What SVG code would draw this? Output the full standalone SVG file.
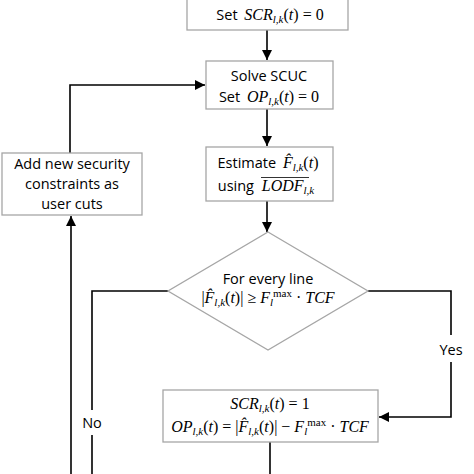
<svg xmlns="http://www.w3.org/2000/svg" width="474" height="474" viewBox="0 0 474 474">
<style>
.box{fill:#fff;stroke:#a6a6a6;stroke-width:1.3}
.ln{fill:none;stroke:#000;stroke-width:1.6}
.t{font-family:"Open Sans","Liberation Sans",sans-serif;font-size:14.5px;fill:#000}
.m{font-family:"Liberation Serif",serif;font-style:italic;font-size:16px}
.r{font-family:"Liberation Serif",serif;font-style:normal;font-size:16px}
.s{font-size:11px}
</style>
<defs>
<marker id="ah" viewBox="0 0 10 10" refX="10" refY="5" markerWidth="10" markerHeight="10" markerUnits="userSpaceOnUse" orient="auto">
<path d="M0,0 L10,5 L0,10 z" fill="#000"/>
</marker>
</defs>
<rect width="474" height="474" fill="#fff"/>
<g id="connectors">
<path class="ln" d="M267,30 V60" marker-end="url(#ah)"/>
<path class="ln" d="M267,109 V146" marker-end="url(#ah)"/>
<path class="ln" d="M267,201 V232" marker-end="url(#ah)"/>
<path class="ln" d="M168,291 H92 V410 M92,435 V474"/>
<path class="ln" d="M368,291 H451 V335 M451,362 V417 H379" marker-end="url(#ah)"/>
<path class="ln" d="M270,442 V474"/>
<path class="ln" d="M71,474 V216" marker-end="url(#ah)"/>
<path class="ln" d="M70,153 V85 H205" marker-end="url(#ah)"/>
<text class="t" x="451" y="355" text-anchor="middle" font-size="15">Yes</text>
<text class="t" x="92" y="428" text-anchor="middle" font-size="15">No</text>
</g>
<g id="init">
<rect class="box" x="187" y="-10" width="161" height="40"/>
<text class="t" x="270" y="20" text-anchor="middle">Set <tspan class="m" dx="3">SCR</tspan><tspan class="m s" dy="3">l,k</tspan><tspan class="r" dy="-3">(</tspan><tspan class="m">t</tspan><tspan class="r">) = 0</tspan></text>
</g>
<g id="solve">
<rect class="box" x="206" y="61" width="127" height="48"/>
<text class="t" x="269" y="81" text-anchor="middle">Solve SCUC</text>
<text class="t" x="269" y="102" text-anchor="middle">Set <tspan class="m" dx="3">OP</tspan><tspan class="m s" dy="3">l,k</tspan><tspan class="r" dy="-3">(</tspan><tspan class="m">t</tspan><tspan class="r">) = 0</tspan></text>
</g>
<g id="add">
<rect class="box" x="2" y="153" width="140" height="62"/>
<text class="t" x="72" y="169" text-anchor="middle">Add new security</text>
<text class="t" x="72" y="189" text-anchor="middle">constraints as</text>
<text class="t" x="72" y="209" text-anchor="middle">user cuts</text>
</g>
<g id="estimate">
<rect class="box" x="206" y="147" width="127" height="54"/>
<text class="t" x="268" y="168" text-anchor="middle">Estimate <tspan class="m" dx="3">F̂</tspan><tspan class="m s" dy="3">l,k</tspan><tspan class="r" dy="-3">(</tspan><tspan class="m">t</tspan><tspan class="r">)</tspan></text>
<text class="t" x="266" y="191" text-anchor="middle">using <tspan class="m" dx="4">LODF</tspan><tspan class="m s" dy="3">l,k</tspan></text>
<line x1="261" y1="177.5" x2="309" y2="177.5" stroke="#000" stroke-width="0.8"/>
</g>
<g id="check">
<path class="box" d="M268,232 L368,291 L268,350 L168,291 Z"/>
<text class="t" x="268" y="284" text-anchor="middle">For every line</text>
<text class="r" x="268" y="303" text-anchor="middle">|<tspan class="m">F̂</tspan><tspan class="m s" dy="3">l,k</tspan><tspan dy="-3">(</tspan><tspan class="m">t</tspan>)| ≥ <tspan class="m">F</tspan><tspan class="m s" dy="3">l</tspan><tspan class="s" dy="-9">max</tspan><tspan dy="6"> · </tspan><tspan class="m">TCF</tspan></text>
</g>
<g id="update">
<rect class="box" x="163" y="390" width="215" height="52"/>
<text class="r" x="270" y="409" text-anchor="middle"><tspan class="m">SCR</tspan><tspan class="m s" dy="3">l,k</tspan><tspan dy="-3">(</tspan><tspan class="m">t</tspan>) = 1</text>
<text class="r" x="270" y="432" text-anchor="middle"><tspan class="m">OP</tspan><tspan class="m s" dy="3">l,k</tspan><tspan dy="-3">(</tspan><tspan class="m">t</tspan>) = |<tspan class="m">F̂</tspan><tspan class="m s" dy="3">l,k</tspan><tspan dy="-3">(</tspan><tspan class="m">t</tspan>)| − <tspan class="m">F</tspan><tspan class="m s" dy="3">l</tspan><tspan class="s" dy="-9">max</tspan><tspan dy="6"> · </tspan><tspan class="m">TCF</tspan></text>
</g>
</svg>
